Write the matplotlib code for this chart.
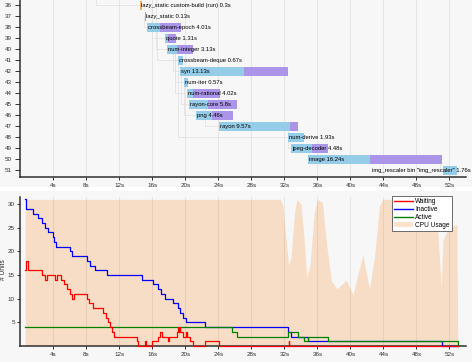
import matplotlib
matplotlib.use("Agg")
import matplotlib.pyplot as plt
from matplotlib.lines import Line2D
from matplotlib.patches import Patch, Rectangle

plt.rcParams["font.family"] = ["Liberation Sans", "DejaVu Sans"]

# ---- unit timeline (rows 36..51 of the cargo --timings graph) ----
unit_rows = list(range(36, 52))
unit_names = [
    "lazy_static custom-build (run)", "lazy_static", "crossbeam-epoch", "quote",
    "num-integer", "crossbeam-deque", "syn", "num-iter", "num-rational",
    "rayon-core", "png", "rayon", "num-derive", "jpeg-decoder", "image",
    'img_rescaler bin "img_rescaler"',
]
unit_start = [14.5, 15.1, 15.4, 17.5, 17.8, 19.1, 19.35, 19.8, 20.2, 20.45,
              21.25, 24.1, 32.45, 32.8, 34.87, 51.2]
unit_total = [0.3, 0.13, 4.01, 1.31, 3.13, 0.67, 13.13, 0.57, 4.02, 5.8,
              4.46, 9.57, 1.93, 4.48, 16.24, 1.76]
# time until metadata is ready (blue part); the rest is codegen (purple)
unit_rmeta = [0.3, 0.05, 1.5, 0.35, 1.2, 0.67, 7.75, 0.57, 0.7, 2.25,
              2.0, 8.6, 1.93, 2.5, 7.47, 1.76]
unit_custom = [True] + [False] * 15

# dependency lines: (source row, unlock time, target row)
dep_lines = [
    (30, 9.5, 36), (37, 15.23, 38), (33, 16.3, 39), (34, 16.75, 40),
    (38, 16.9, 41), (39, 18.81, 42), (40, 19.0, 43), (40, 19.0, 44),
    (41, 19.77, 45), (43, 20.1, 46), (41, 19.4, 48), (45, 22.7, 47),
    (47, 32.7, 49), (49, 35.3, 50), (50, 51.11, 51),
]

# ---- concurrency graph ----
wait_t = [0.6, 0.65, 0.97, 2.6, 3.0, 3.2, 4.2, 4.4, 4.9, 5.3,
          5.6, 6.0, 6.3, 6.45, 8.1, 8.35, 8.8, 10.05, 10.4, 10.65,
          10.85, 11.1, 11.4, 14.1, 14.3, 15.1, 15.2, 15.9, 16.7, 16.9,
          17.2, 17.9, 18.0, 19.0, 19.1, 19.2, 19.3, 19.4, 19.7, 20.1,
          20.2, 20.5, 20.9, 22.4, 24.1, 32.5, 32.6, 53.0]
wait_v = [16, 18, 16, 15, 14, 15, 14, 15, 14, 13,
          12, 11, 10, 11, 10, 9, 8, 7, 6, 5,
          4, 3, 2, 1, 0, 1, 0, 1, 2, 3,
          2, 1, 2, 3, 4, 3, 4, 3, 2, 3,
          2, 1, 0, 1, 0, 1, 0, 0]

inact_t = [0.6, 0.65, 1.57, 2.18, 2.6, 3.0, 3.4, 4.0, 4.1, 4.3,
           6.0, 6.3, 8.1, 8.4, 9.0, 10.5, 14.8, 16.1, 16.7, 17.1,
           17.5, 18.5, 19.1, 19.3, 19.7, 20.1, 22.4, 32.45, 32.8, 34.87,
           51.1, 53.0]
inact_v = [31, 29, 28, 27, 26, 25, 24, 23, 22, 21,
           20, 19, 18, 17, 16, 15, 14, 13, 12, 11,
           10, 9, 8, 7, 6, 5, 4, 3, 2, 1,
           0, 0]

act_t = [0.6, 25.6, 26.3, 32.45, 33.7, 34.4, 34.87, 37.3, 53.0]
act_v = [4, 3, 2, 3, 2, 1, 2, 1, 0]

cpu_t = [0.6, 31.5, 31.8, 32.2, 32.5, 32.8, 33.2, 33.5, 34.0, 34.4,
         34.7, 35.1, 35.6, 36.0, 36.6, 37.1, 37.7, 38.4, 39.5, 40.3,
         41.5, 42.3, 42.9, 43.5, 43.9, 50.0, 50.5, 51.0, 51.2, 51.8,
         52.9, 53.0]
cpu_pct = [100, 100, 96, 72, 55, 60, 90, 100, 97, 72,
           47, 55, 90, 100, 98, 70, 44, 39, 45, 35,
           62, 39, 60, 95, 100, 100, 85, 40, 72, 80,
           83, 0]

x_ticks = list(range(4, 53, 4))
max_units = 31

# ---- style ----
W, H = 474, 362
BG = "#f7f7f7"
GRID = "#e6e6e6"
AXES = "#303030"
BLUE = "#95cce8"
PURPLE = "#aa95e8"
ORANGE = "#f0b165"
DEP = "#e0e0e0"
CPU = (250 / 255, 119 / 255, 0)


def px_box(x0, y0, x1, y1):
    """pixel box (top-left origin) -> figure fraction rect"""
    return [x0 / W, 1 - y1 / H, (x1 - x0) / W, (y1 - y0) / H]


def style_axes(ax):
    ax.set_facecolor(BG)
    for side in ("top", "right"):
        ax.spines[side].set_visible(False)
    for side in ("left", "bottom"):
        ax.spines[side].set_color(AXES)
        ax.spines[side].set_linewidth(1.1)
    ax.tick_params(length=2.5, width=0.7, color=AXES, labelsize=4.5,
                   labelcolor=AXES, pad=1.5)
    ax.set_xlim(0, 54)
    ax.set_xticks(x_ticks)
    ax.set_xticklabels([f"{t}s" for t in x_ticks])
    ax.grid(axis="x", color=GRID, lw=0.8)
    ax.set_axisbelow(True)


fig = plt.figure(figsize=(W / 100, H / 100), dpi=100)
fig.patch.set_facecolor("white")
fig.add_artist(Rectangle((0, 1 - 187 / H), 471.7 / W, 187 / H,
                         transform=fig.transFigure, fc=BG, ec="none", zorder=-10))
fig.add_artist(Rectangle((0, 0), 471.7 / W, 171 / H,
                         transform=fig.transFigure, fc=BG, ec="none", zorder=-10))

# ---------------- unit timeline ----------------
ax1 = fig.add_axes(px_box(20.3, 0, 466, 177.3))
style_axes(ax1)
ax1.tick_params(axis="y", length=3.5, pad=2.5)
ax1.set_ylim(51.62, 35.5)
ax1.set_yticks(unit_rows)

start_of = dict(zip(unit_rows, unit_start))
for src_row, src_t, dst_row in dep_lines:
    xv = src_t - 0.3
    ax1.plot([src_t, xv, xv, start_of[dst_row]], [src_row, src_row, dst_row, dst_row],
             color=DEP, lw=0.5, zorder=1)

for row, name, s, tot, rm, custom in zip(unit_rows, unit_names, unit_start,
                                         unit_total, unit_rmeta, unit_custom):
    if custom:
        ax1.barh(row, tot, left=s, height=0.83, color=ORANGE, zorder=2)
    else:
        ax1.barh(row, rm, left=s, height=0.83, color=BLUE, zorder=2)
        if tot > rm:
            ax1.barh(row, tot - rm, left=s + rm, height=0.83, color=PURPLE, zorder=2)
    label = f"{name} {tot:g}s"
    if s > 54 - 8:
        ax1.text(54.53, row, label, ha="right", va="center", fontsize=4.2,
                 color="#000000", zorder=3, clip_on=False)
    else:
        ax1.text(s + 0.12, row, label, ha="left", va="center", fontsize=4.2,
                 color="#000000", zorder=3)

# ---------------- concurrency ----------------
ax2 = fig.add_axes(px_box(20.3, 196.5, 466, 346))
style_axes(ax2)
ax2.set_ylim(0, 31.6)
ax2.set_yticks([5, 10, 15, 20, 25, 30])

cpu_units = [p / 100 * max_units for p in cpu_pct]
ax2.fill_between(cpu_t, 0, cpu_units, color=CPU, alpha=0.2, lw=0, zorder=1)
ax2.step(inact_t, inact_v, where="post", color="blue", lw=0.9, zorder=3, clip_on=False)
ax2.step(act_t, act_v, where="post", color="green", lw=0.9, zorder=4, clip_on=False)
ax2.step(wait_t, wait_v, where="post", color="red", lw=0.9, zorder=5, clip_on=False)

fig.text(3.5 / W, 1 - 270 / H, "# Units", rotation=90, ha="center", va="center",
         fontsize=4.8, color=AXES)

handles = [Line2D([], [], color="red", lw=1), Line2D([], [], color="blue", lw=1),
           Line2D([], [], color="green", lw=1), Patch(fc=CPU, alpha=0.2, ec="none")]
leg = ax2.legend(handles, ["Waiting", "Inactive", "Active", "CPU Usage"],
                 loc="upper right", bbox_to_anchor=((451.7 - 20.3) / 445.7, (346 - 196) / 149.5),
                 fontsize=4.7, frameon=True, fancybox=False, framealpha=1,
                 borderpad=0.3, labelspacing=0.15, handlelength=3.0,
                 handletextpad=0.3, borderaxespad=0)
leg.get_frame().set_edgecolor("#555555")
leg.get_frame().set_linewidth(0.6)

fig.savefig("out.png", dpi=100, facecolor="white")
